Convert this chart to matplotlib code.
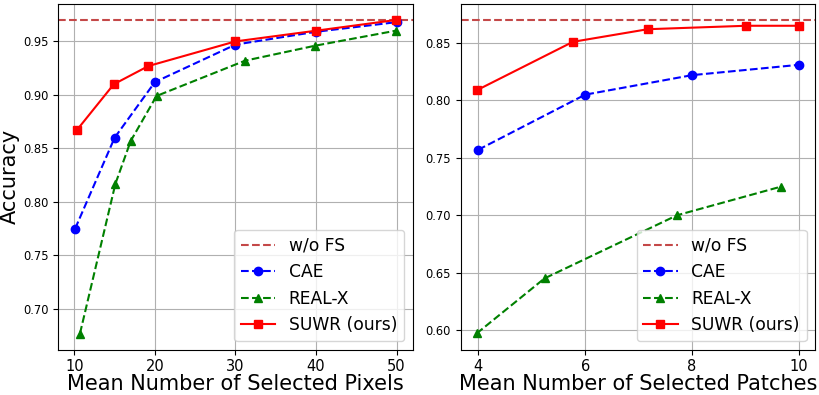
import matplotlib
matplotlib.use("Agg")
import matplotlib.pyplot as plt

# Left panel: pixels
wofs_pix = 0.970
suwr_pix_x = [10.3, 14.9, 19.2, 30.0, 40.0, 49.9]
suwr_pix_y = [0.867, 0.910, 0.927, 0.950, 0.960, 0.970]
cae_pix_x = [10.1, 15.0, 20.0, 30.0, 40.0, 50.0]
cae_pix_y = [0.775, 0.860, 0.912, 0.947, 0.959, 0.968]
realx_pix_x = [10.7, 15.1, 17.0, 20.2, 31.2, 39.9, 49.9]
realx_pix_y = [0.677, 0.817, 0.857, 0.899, 0.932, 0.946, 0.960]

# Right panel: patches
wofs_pat = 0.870
suwr_pat_x = [3.98, 5.77, 7.17, 9.01, 10.0]
suwr_pat_y = [0.809, 0.851, 0.862, 0.865, 0.865]
cae_pat_x = [4.0, 6.0, 8.0, 10.0]
cae_pat_y = [0.757, 0.805, 0.822, 0.831]
realx_pat_x = [3.97, 5.24, 7.72, 9.67]
realx_pat_y = [0.597, 0.645, 0.700, 0.725]

fig, (ax1, ax2) = plt.subplots(1, 2, figsize=(8.2, 3.95), dpi=100)
fig.subplots_adjust(left=0.071, right=0.994, top=0.99, bottom=0.115, wspace=0.135)

panels = [
    (ax1, wofs_pix, cae_pix_x, cae_pix_y, realx_pix_x, realx_pix_y, suwr_pix_x, suwr_pix_y,
     'Mean Number of Selected Pixels'),
    (ax2, wofs_pat, cae_pat_x, cae_pat_y, realx_pat_x, realx_pat_y, suwr_pat_x, suwr_pat_y,
     'Mean Number of Selected Patches'),
]

for ax, wofs, cx, cy, rx, ry, sx, sy, xlabel in panels:
    ax.axhline(wofs, color='#c44848', linestyle='--', linewidth=1.5, label='w/o FS')
    ax.plot(cx, cy, 'b--o', markersize=6, label='CAE')
    ax.plot(rx, ry, 'g--^', markersize=6, label='REAL-X')
    ax.plot(sx, sy, 'r-s', markersize=6, label='SUWR (ours)')
    ax.grid(True)
    ax.set_xlabel(xlabel, fontsize=15, labelpad=0)
    ax.tick_params(axis='x', labelsize=10.5)
    ax.tick_params(axis='y', labelsize=8.3)
    ax.legend(loc='lower right', fontsize=12.3)

ax1.set_ylabel('Accuracy', fontsize=15, labelpad=2)
ax1.set_xlim(8, 52)
ax1.set_ylim(0.662, 0.985)
ax1.set_xticks([10, 20, 30, 40, 50])
ax1.set_yticks([0.70, 0.75, 0.80, 0.85, 0.90, 0.95])

ax2.set_xlim(3.67, 10.3)
ax2.set_ylim(0.583, 0.884)
ax2.set_xticks([4, 6, 8, 10])
ax2.set_yticks([0.60, 0.65, 0.70, 0.75, 0.80, 0.85])

plt.savefig('out.png', dpi=100)
